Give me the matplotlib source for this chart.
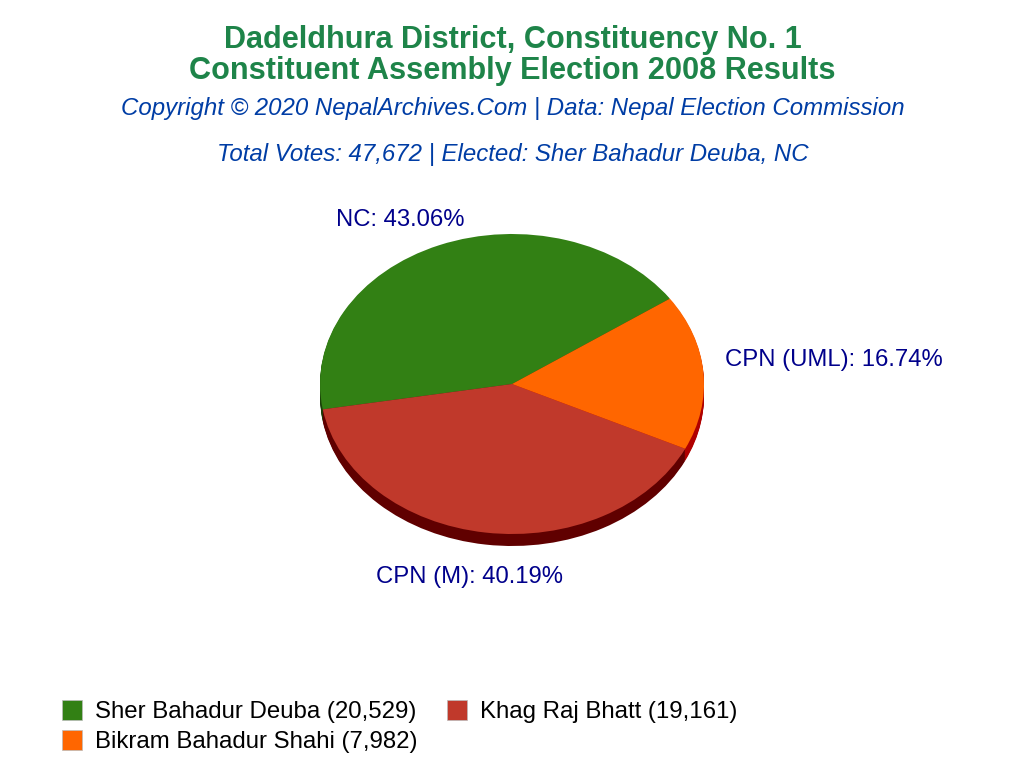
# -*- coding: utf-8 -*-
import matplotlib
matplotlib.use('Agg')
import matplotlib.pyplot as plt
from matplotlib.patches import Rectangle

plt.rcParams['font.family'] = ['Liberation Sans', 'DejaVu Sans']

# --- Data ---
candidates = ['Sher Bahadur Deuba', 'Khag Raj Bhatt', 'Bikram Bahadur Shahi']
parties = ['NC', 'CPN (M)', 'CPN (UML)']
votes = [20529, 19161, 7982]
shares = [43.06, 40.19, 16.74]

colors = ['#328014', '#C0392B', '#FF6600']
side_colors = ['#1A4008', '#600000', '#B00000']

W, H = 1024, 768
fig = plt.figure(figsize=(W / 100, H / 100), dpi=100, facecolor='white')


def put(x, y, s, **kw):
    fig.text(x / W, 1 - y / H, s, ha=kw.pop('ha', 'center'), va='center', **kw)


# --- Pie with rim ---
ax = fig.add_axes([320 / W, 1 - 534 / H, 384 / W, 300 / H])
for i in range(12, 0, -1):
    ax.pie(votes, colors=side_colors, startangle=34.7, radius=1,
           center=(0, -i / 150))
ax.pie(votes, colors=colors, startangle=34.7, radius=1, center=(0, 0))
ax.set_aspect('auto')
ax.set_xlim(-1, 1)
ax.set_ylim(-1, 1)
ax.axis('off')
for p in ax.patches:
    p.set_clip_on(False)

# --- Titles ---
title_green = '#1E8449'
sub_blue = '#003DA5'
put(513, 40, 'Dadeldhura District, Constituency No. 1', color=title_green,
    fontsize=22.05, fontweight='bold')
put(512.5, 71, 'Constituent Assembly Election 2008 Results', color=title_green,
    fontsize=22.05, fontweight='bold')
put(513, 108, 'Copyright © 2020 NepalArchives.Com | Data: Nepal Election Commission',
    color=sub_blue, fontsize=17.3, style='italic')
put(512.5, 154, f'Total Votes: {sum(votes):,} | Elected: Sher Bahadur Deuba, NC',
    color=sub_blue, fontsize=17.3, style='italic')

# --- Slice labels ---
label_blue = '#00008B'
put(400, 220, f'{parties[0]}: {shares[0]:.2f}%', color=label_blue, fontsize=17.2)
put(469, 577, f'{parties[1]}: {shares[1]:.2f}%', color=label_blue, fontsize=17.2)
put(834, 360, f'{parties[2]}: {shares[2]:.2f}%', color=label_blue, fontsize=17.2)

# --- Legend ---
legend_pos = [(62, 710), (447, 710), (62, 740)]
for name, v, c, (x, y) in zip(candidates, votes, colors, legend_pos):
    fig.add_artist(Rectangle((x / W, 1 - (y + 10) / H), 20 / W, 20 / H,
                             transform=fig.transFigure, facecolor=c,
                             edgecolor='#BBBBBB', linewidth=0.5))
    put(x + 33, y + 2, f'{name} ({v:,})', color='black', fontsize=17.25, ha='left')

fig.savefig('out.png', dpi=100)
